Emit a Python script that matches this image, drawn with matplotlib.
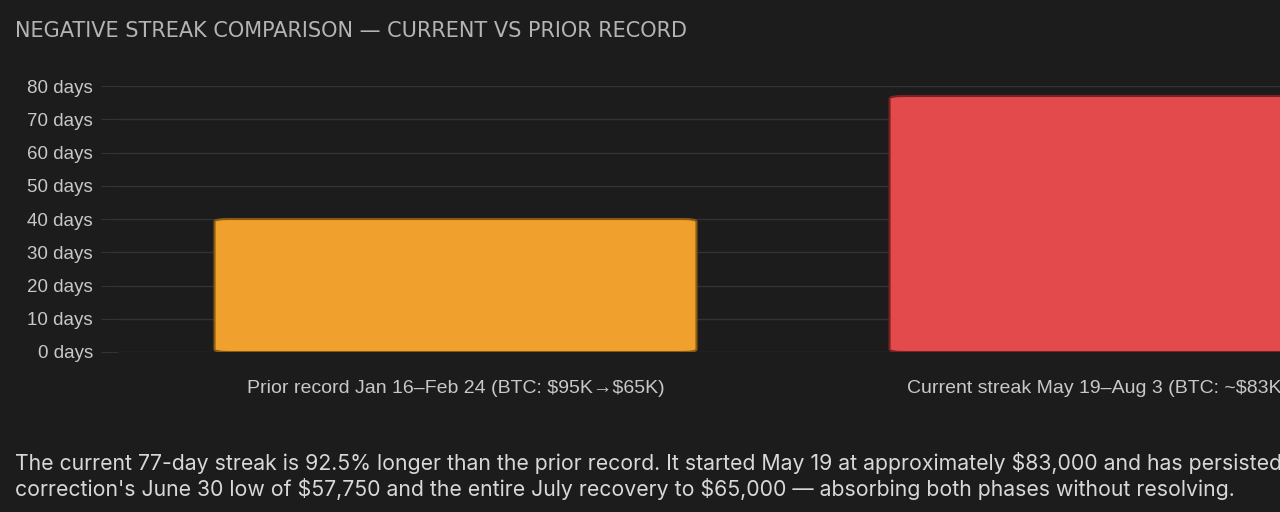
import matplotlib
matplotlib.use("Agg")
import matplotlib.pyplot as plt
from matplotlib.patches import FancyBboxPatch

categories = ["Prior record Jan 16\u2013Feb 24 (BTC: $95K\u2192$65K)",
              "Current streak May 19\u2013Aug 3 (BTC: ~$83K\u2192$65K)"]
streak_days = [40, 77]
bar_colors = ["#f0a02c", "#e34a4b"]
edge_colors = ["#8a5a12", "#7a2222"]
yticks = [0, 10, 20, 30, 40, 50, 60, 70, 80]

bg = "#1c1c1c"
plt.rcParams['font.family'] = ['Liberation Sans', 'DejaVu Sans']
plt.rcParams['text.parse_math'] = False

fig = plt.figure(figsize=(12.8, 5.12), dpi=100, facecolor=bg)
ax = fig.add_axes([0.0922, 0.3125, 1.0547, 0.5195], facecolor=bg)

bars = ax.bar(range(len(categories)), streak_days, width=0.714, color="none")
for b, c, e in zip(bars, bar_colors, edge_colors):
    b.set_visible(False)
    p = FancyBboxPatch((b.get_x(), 0), b.get_width(), b.get_height(),
                       boxstyle="round,pad=0,rounding_size=0.02",
                       mutation_aspect=40, facecolor=c, edgecolor=e, linewidth=1.5)
    ax.add_patch(p)

ax.set_xlim(-0.5, 1.5)
ax.set_ylim(0, 80)
ax.set_yticks(yticks)
ax.set_yticklabels([f"{t} days" for t in yticks], color="#c8c8c8", fontsize=13.5)
ax.set_xticks(range(len(categories)))
ax.set_xticklabels(categories, color="#c8c8c8", fontsize=14)
ax.tick_params(axis="y", length=12, color="#333333", pad=6)
ax.tick_params(axis="x", length=0, pad=20)
ax.grid(axis="y", color="#333333", linewidth=1)
ax.set_axisbelow(True)
for s in ax.spines.values():
    s.set_visible(False)

fig.text(15 / 1280, 1 - 31 / 512, "NEGATIVE STREAK COMPARISON \u2014 CURRENT VS PRIOR RECORD",
         color="#b4b4b4", fontsize=15, va="center", weight="medium",
         family=['DejaVu Sans'])
fig.text(15 / 1280, 1 - 476 / 512,
         "The current 77-day streak is 92.5% longer than the prior record. It started May 19 at approximately $83,000 and has persisted through the\n"
         "correction's June 30 low of $57,750 and the entire July recovery to $65,000 \u2014 absorbing both phases without resolving.",
         color="#d8d8d8", fontsize=15.3, va="center", linespacing=1.2,
         family=['Inter', 'DejaVu Sans'])

fig.savefig("out.png", facecolor=bg)
